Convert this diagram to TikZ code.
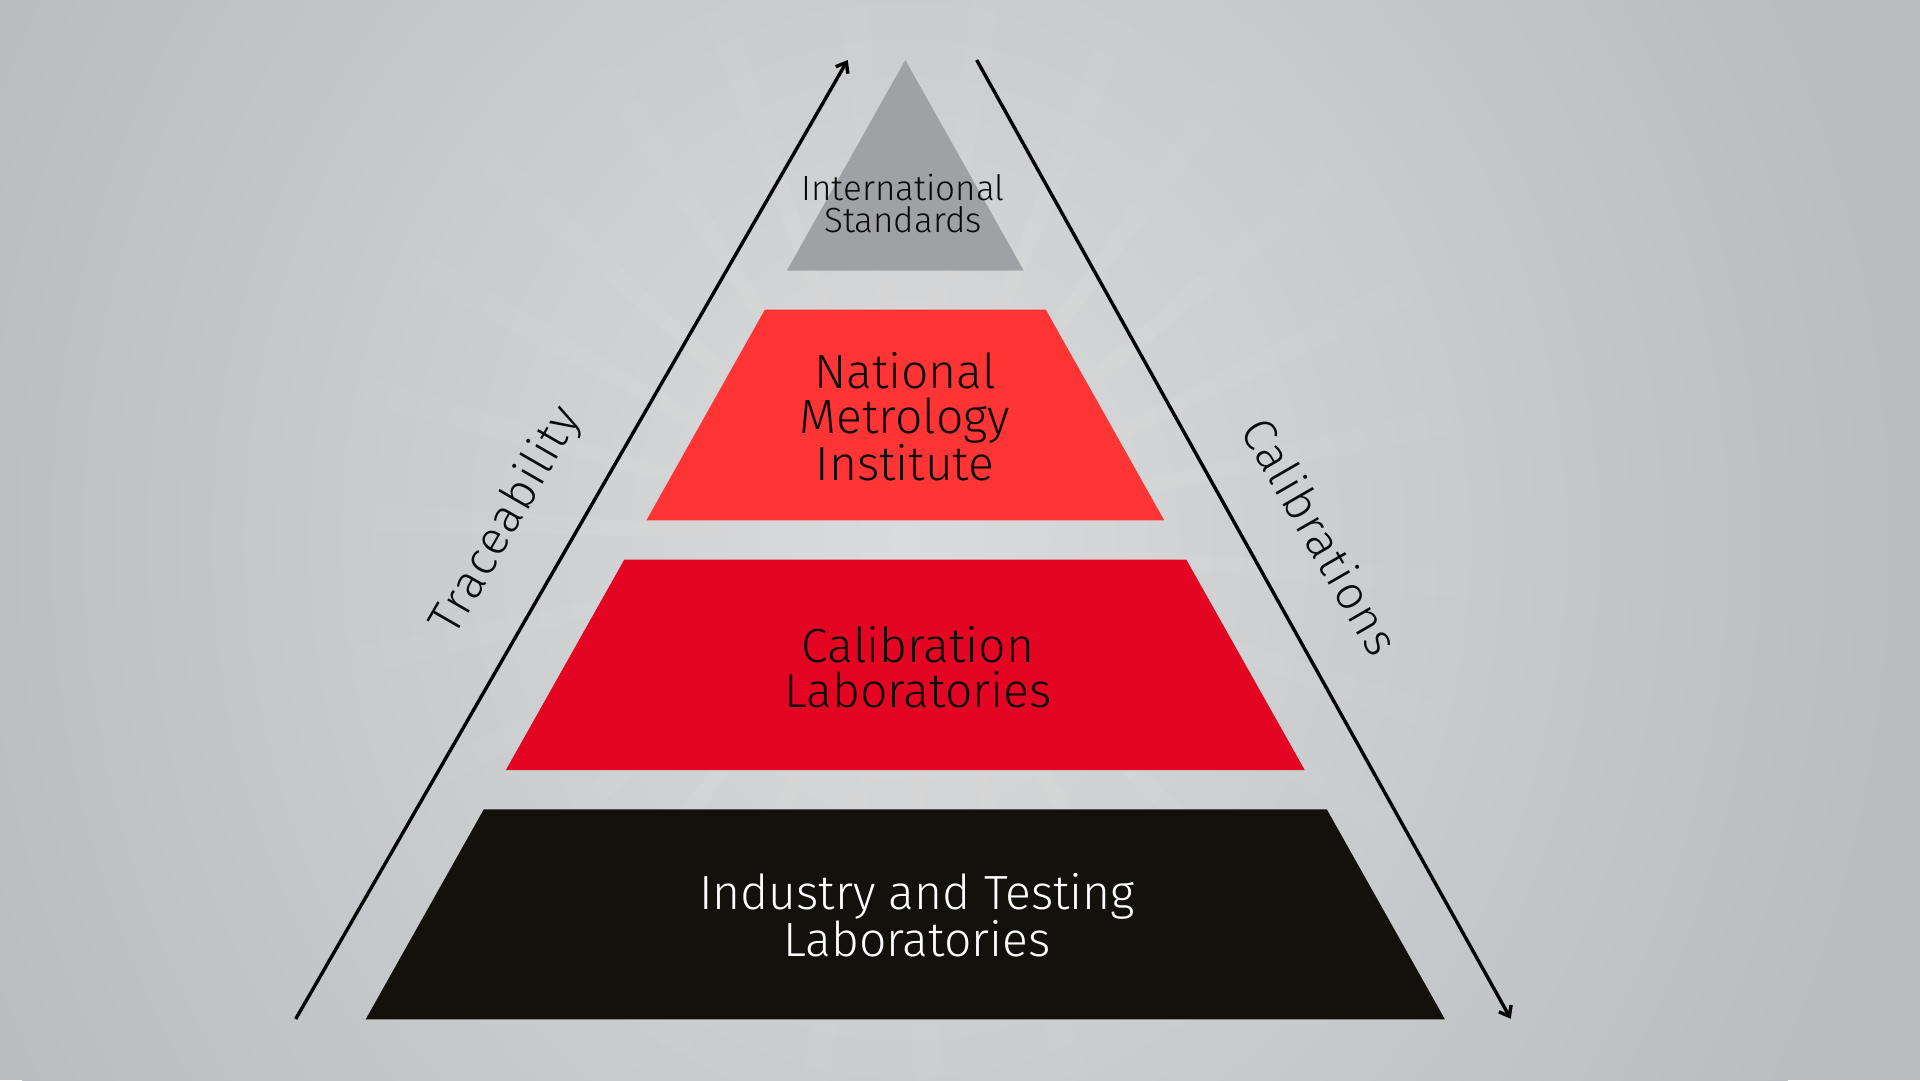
\documentclass[tikz,border=0pt]{standalone}
\usepackage{fontspec}
\setmainfont{Fira Sans Light}
\usetikzlibrary{arrows.meta}
\definecolor{bggray}{HTML}{BBBCBF}
\definecolor{glow}{HTML}{DADBDC}
\definecolor{stdgray}{HTML}{A0A1A5}
\definecolor{nmired}{HTML}{FF3434}
\definecolor{calred}{HTML}{E30521}
\definecolor{indblack}{HTML}{13110B}
\definecolor{inkblack}{HTML}{0A0A0A}
\begin{document}
\begin{tikzpicture}[x=1pt,y=-1pt,
  tiertext/.style={align=center, inner sep=0pt, text=inkblack,
    font=\fontsize{48}{45}\selectfont},
  toptext/.style={align=center, inner sep=0pt, text=inkblack,
    font=\fontsize{35}{32}\selectfont},
  sidetext/.style={inner sep=0pt, text=inkblack,
    font=\fontsize{47}{50}\selectfont\addfontfeatures{LetterSpace=3}},
  arrowline/.style={draw=black, line width=3.4pt,
    -{Straight Barb[length=9pt,width=14pt]}},
  ray/.style={fill=white, fill opacity=0.025}]
% background
\useasboundingbox (0,0) rectangle (1920,1080);
\fill[bggray] (0,0) rectangle (1920,1080);
\begin{scope}
\clip (0,0) rectangle (1920,1080);
\shade[inner color=glow, outer color=bggray] (905,540) ellipse [x radius=1000, y radius=1150];
\coordinate (glowc) at (905,540);
\foreach \a in {3,17,29,44,58,71,86,98,113,127,139,152,166,181,194,208,221,236,249,263,277,291,304,318,332,346} {
  \foreach \r in {250,400,560} {
    \fill[ray] (glowc) -- +(\a:\r) -- +(\a+3:\r) -- cycle;
  }
}
\end{scope}
% tiers
\fill[stdgray] (905.3,60) -- (1023.8,270.7) -- (786.8,270.7) -- cycle;
\fill[nmired] (764.8,309.7) -- (1045.8,309.7) -- (1164.2,520.3) -- (646.4,520.3) -- cycle;
\fill[calred] (624.3,559.6) -- (1186.3,559.6) -- (1304.7,770) -- (505.9,770) -- cycle;
\fill[indblack] (483.8,809.3) -- (1326.8,809.3) -- (1444.9,1019.3) -- (365.7,1019.3) -- cycle;
% labels
\node[toptext] (intl) at (903,204) {International\\Standards};
\node[tiertext] (nmi) at (905,417) {National\\Metrology\\Institute};
\node[tiertext] (cal) at (918,667) {Calibration\\Laboratories};
\node[tiertext, text=white] (ind) at (917,915) {Industry and Testing\\Laboratories};
% side arrows
\coordinate (trA) at (295.7,1019);
\coordinate (trB) at (847.7,60);
\coordinate (caA) at (976.7,60);
\coordinate (caB) at (1510.7,1018.7);
\draw[arrowline] (trA) -- (trB);
\draw[arrowline] (caA) -- (caB);
\node[sidetext, rotate=60] (trace) at (507,521) {Traceability};
\node[sidetext, rotate=-60] (calib) at (1321,536) {Calibrations};
\end{tikzpicture}
\end{document}
